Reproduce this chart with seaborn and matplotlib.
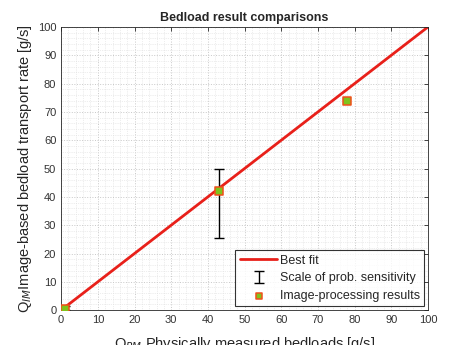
import matplotlib
matplotlib.use("Agg")
import matplotlib.pyplot as plt
import seaborn as sns
import numpy as np
import pandas as pd
from matplotlib.ticker import MultipleLocator

# data
fit_x = [0, 100]
fit_y = [0, 100]
meas_x = [1, 43, 78]
meas_y = [0.5, 42, 74]
err_x = [1, 43]
err_y = [0.5, 42]
err_low = [0.5, 16.5]
err_high = [0.8, 8.0]

sns.set_style("white")
plt.rcParams['font.family'] = ['Liberation Sans', 'DejaVu Sans']

fig = plt.figure(figsize=(4.74, 3.45), dpi=100)
ax = fig.add_axes([0.129, 0.101, 0.774, 0.821])

df_fit = pd.DataFrame({"x": fit_x, "y": fit_y})
df_pts = pd.DataFrame({"x": meas_x, "y": meas_y})

sns.lineplot(data=df_fit, x="x", y="y", ax=ax, color="#e8201a", lw=2, label="Best fit")
eb = ax.errorbar(err_x, err_y, yerr=[err_low, err_high], fmt="none", ecolor="black",
                 elinewidth=1.0, capsize=3.5, capthick=1.0, label="Scale of prob. sensitivity")
sns.scatterplot(data=df_pts, x="x", y="y", ax=ax, marker="s", s=32, color="#7fc31c",
                edgecolor="#f0501a", linewidth=1.1, zorder=5, label="Image-processing results")

ax.set_xlim(0, 100)
ax.set_ylim(0, 100)
ax.xaxis.set_major_locator(MultipleLocator(10))
ax.yaxis.set_major_locator(MultipleLocator(10))
ax.xaxis.set_minor_locator(MultipleLocator(2))
ax.yaxis.set_minor_locator(MultipleLocator(2))
ax.grid(which="major", color="#c8c8c8", linestyle=":", linewidth=0.7)
ax.grid(which="minor", color="#dcdcdc", linestyle=":", linewidth=0.5)
ax.tick_params(which="major", direction="in", length=3, top=True, right=True,
               labelsize=8, colors="#262626", labelcolor="#333333", width=0.6)
ax.tick_params(which="minor", length=0)
for s in ax.spines.values():
    s.set_color("#262626")
    s.set_linewidth(0.6)

ax.set_title("Bedload result comparisons", fontsize=9, fontweight="bold", pad=4)
ax.set_xlabel("Q$_{PM}$ Physically measured bedloads [g/s]", fontsize=10.5, color="#262626", labelpad=7)
ax.set_ylabel("Q$_{IM}$Image-based bedload transport rate [g/s]", fontsize=10.5, color="#262626", labelpad=3)

handles, labels = ax.get_legend_handles_labels()
order = ["Best fit", "Scale of prob. sensitivity", "Image-processing results"]
hmap = dict(zip(labels, handles))
leg = ax.legend([hmap[k] for k in order], order, loc="lower right", fontsize=9, frameon=True,
                fancybox=False, edgecolor="black", borderaxespad=0.3, handlelength=3.0,
                borderpad=0.35, labelspacing=0.45, handletextpad=0.2, markerscale=0.7)
leg.get_frame().set_linewidth(0.8)

fig.savefig("out.png", dpi=100)
